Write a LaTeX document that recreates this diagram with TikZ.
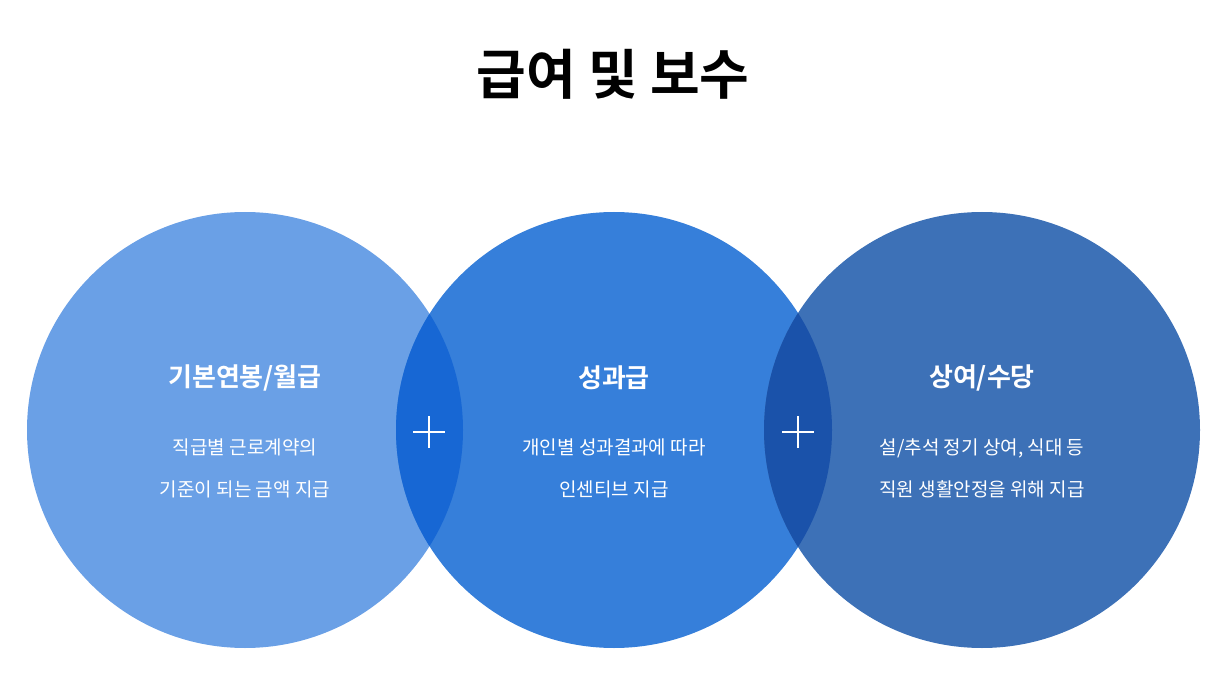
\documentclass[tikz,border=0pt]{standalone}
\usepackage{fontspec}
\setmainfont{Noto Sans CJK KR}
\newfontfamily\krb{Noto Sans CJK KR Bold}
\begin{document}
\begin{tikzpicture}[x=1pt,y=-1pt,
  head/.style={text=white,font=\krb\fontsize{26}{30}\selectfont},
  body/.style={text=white,align=center,font=\fontsize{19}{42}\selectfont},
  plus/.style={white,line width=1.6pt}]
\useasboundingbox (0,0) rectangle (1226,676);
\definecolor{cA}{HTML}{6AA0E6}
\definecolor{cB}{HTML}{367FDA}
\definecolor{cC}{HTML}{3D71B7}
\definecolor{cAB}{HTML}{1767D4}
\definecolor{cBC}{HTML}{1A52AA}
\node[font=\krb\fontsize{54}{60}\selectfont] (title) at (613,74) {급여 및 보수};
\fill[cA] (245,430) circle (218);
\fill[cB] (614,430) circle (218);
\fill[cC] (982,430) circle (218);
\begin{scope}
\clip (245,430) circle (218);
\fill[cAB] (614,430) circle (218);
\end{scope}
\begin{scope}
\clip (614,430) circle (218);
\fill[cBC] (982,430) circle (218);
\end{scope}
\node[head] (h1) at (245,378) {기본연봉/월급};
\node[head] (h2) at (614,378) {성과급};
\node[head] (h3) at (982,378) {상여/수당};
\node[body] (b1) at (245,468) {직급별 근로계약의\\기준이 되는 금액 지급};
\node[body] (b2) at (614,468) {개인별 성과결과에 따라\\인센티브 지급};
\node[body] (b3) at (982,468) {설/추석 정기 상여, 식대 등\\직원 생활안정을 위해 지급};
\coordinate (p1) at (429,432);
\coordinate (p2) at (798,432);
\foreach \p in {p1,p2}{
  \draw[plus] ([xshift=-16pt]\p) -- ([xshift=16pt]\p);
  \draw[plus] ([yshift=-16pt]\p) -- ([yshift=16pt]\p);}
\end{tikzpicture}
\end{document}
